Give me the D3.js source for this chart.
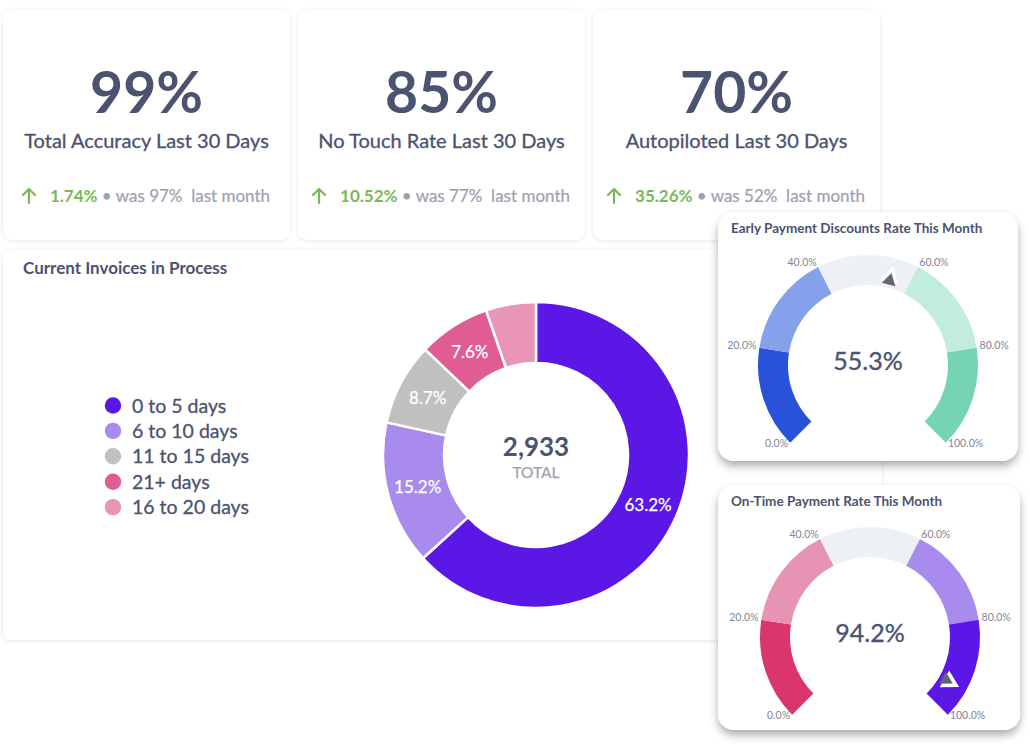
<!DOCTYPE html>
<html>
<head>
<meta charset="utf-8">
<script src="https://cdn.jsdelivr.net/npm/d3@7"></script>
<style>
  html, body { margin: 0; padding: 0; background: #ffffff; }
  svg { display: block; font-family: Lato, "Open Sans", sans-serif; }
</style>
</head>
<body>
<script>
// ---- data ----
const kpiValues = ["99%", "85%", "70%"];
const kpiLabels = ["Total Accuracy Last 30 Days", "No Touch Rate Last 30 Days", "Autopiloted Last 30 Days"];
const kpiDeltas = ["1.74%", "10.52%", "35.26%"];
const kpiPrevious = ["97%", "77%", "52%"];

const invoiceCategories = ["0 to 5 days", "6 to 10 days", "11 to 15 days", "21+ days", "16 to 20 days"];
const invoiceCounts = [1854, 446, 255, 223, 155];
const invoiceColors = ["#5b17e6", "#a98bee", "#bfc0bf", "#e05d93", "#e995b7"];

const gaugeTitles = ["Early Payment Discounts Rate This Month", "On-Time Payment Rate This Month"];
const gaugeValues = [55.3, 94.2];
const gaugeTicks = [0, 20, 40, 60, 80, 100];
const gaugeColors = [
  ["#2853d9", "#86a1ec", "#edf0f4", "#c2ecdd", "#76d4b4"],
  ["#d93670", "#e693b4", "#edf0f4", "#a98bee", "#5b17e6"]
];

const DARK = "#4a5370", GRAY = "#9ca1b0", GREEN = "#7ab85a";
const W = 1030, H = 746;

const svg = d3.select("body").append("svg")
  .attr("width", W)
  .attr("height", H);

// shadows
const defs = svg.append("defs");
defs.append("filter").attr("id", "soft")
  .attr("x", "-10%").attr("y", "-10%").attr("width", "120%").attr("height", "130%")
  .append("feDropShadow")
  .attr("dx", 0).attr("dy", 1).attr("stdDeviation", 2)
  .attr("flood-color", "#000").attr("flood-opacity", 0.10);
defs.append("filter").attr("id", "lift")
  .attr("x", "-10%").attr("y", "-10%").attr("width", "120%").attr("height", "130%")
  .append("feDropShadow")
  .attr("dx", 0).attr("dy", 5).attr("stdDeviation", 4.5)
  .attr("flood-color", "#000").attr("flood-opacity", 0.32);

// ---- KPI cards ----
const cardW = 287, cardH = 231;
const kpi = svg.selectAll("g.kpi")
  .data(kpiValues)
  .enter()
  .append("g")
  .attr("class", "kpi")
  .attr("transform", (d, i) => "translate(" + (3 + i * 295) + ",9)");

kpi.append("rect")
  .attr("width", cardW).attr("height", cardH)
  .attr("rx", 10)
  .attr("fill", "#fff")
  .attr("filter", "url(#soft)");

kpi.append("text")
  .attr("x", cardW / 2).attr("y", 104)
  .attr("text-anchor", "middle")
  .attr("font-size", 57).attr("font-weight", 700)
  .attr("fill", DARK)
  .text(d => d);

kpi.append("text")
  .attr("x", cardW / 2).attr("y", 139)
  .attr("text-anchor", "middle")
  .attr("font-size", 20)
  .attr("fill", DARK)
  .attr("stroke", DARK).attr("stroke-width", 0.3)
  .text((d, i) => kpiLabels[i]);

kpi.each(function (d, i) {
  const line = d3.select(this).append("g");
  // up arrow
  line.append("path")
    .attr("d", "M6,14V0M0,6L6,0L12,6")
    .attr("fill", "none")
    .attr("stroke", GREEN).attr("stroke-width", 2.2)
    .attr("stroke-linecap", "round").attr("stroke-linejoin", "round")
    .attr("transform", "translate(0,-13)");
  const t = line.append("text")
    .attr("x", 27).attr("y", 0)
    .attr("font-size", 17)
    .attr("xml:space", "preserve");
  t.append("tspan").attr("fill", GREEN).attr("font-weight", 700).text(kpiDeltas[i]);
  t.append("tspan").attr("fill", GRAY)
    .attr("stroke", GRAY).attr("stroke-width", 0.2)
    .text(" \u2022 was " + kpiPrevious[i] + "  last month");
  const bb = line.node().getBBox();
  line.attr("transform", "translate(" + (cardW / 2 - bb.width / 2) + ",193)");
});

// ---- invoices panel ----
const panel = svg.append("g").attr("transform", "translate(3,249)");
panel.append("rect")
  .attr("width", 879).attr("height", 391)
  .attr("rx", 8)
  .attr("fill", "#fff")
  .attr("filter", "url(#soft)");
panel.append("text")
  .attr("x", 20).attr("y", 25)
  .attr("font-size", 17).attr("font-weight", 700)
  .attr("fill", DARK)
  .text("Current Invoices in Process");

const legend = svg.append("g").attr("class", "legend")
  .selectAll("g")
  .data(invoiceCategories)
  .enter()
  .append("g")
  .attr("transform", (d, i) => "translate(113," + (405.5 + i * 25.4) + ")");
legend.append("circle")
  .attr("r", 8.2)
  .attr("fill", (d, i) => invoiceColors[i]);
legend.append("text")
  .attr("x", 19).attr("y", 7)
  .attr("font-size", 19.5)
  .attr("fill", DARK)
  .attr("stroke", DARK).attr("stroke-width", 0.3)
  .text(d => d);

// donut
const total = d3.sum(invoiceCounts);
const cx = 536, cy = 455, outerR = 153, innerR = 92;
const pie = d3.pie().sort(null).value(d => d);
const arcGen = d3.arc().innerRadius(innerR).outerRadius(outerR);
const donut = svg.append("g")
  .attr("class", "donut")
  .attr("transform", "translate(" + cx + "," + cy + ")");
const slices = pie(invoiceCounts);
donut.selectAll("path")
  .data(slices)
  .enter()
  .append("path")
  .attr("d", arcGen)
  .attr("fill", (d, i) => invoiceColors[i])
  .attr("stroke", "#fff").attr("stroke-width", 2.5);

const pct = d3.format(".1%");
donut.selectAll("text.slice")
  .data(slices.filter(d => d.value / total > 0.06))
  .enter()
  .append("text")
  .attr("class", "slice")
  .attr("transform", d => "translate(" + arcGen.centroid(d) + ")")
  .attr("text-anchor", "middle")
  .attr("dy", "0.38em")
  .attr("font-size", 17)
  .attr("fill", "#fff")
  .attr("stroke", "#fff").attr("stroke-width", 0.25)
  .text(d => pct(d.value / total));

donut.append("text")
  .attr("y", 1)
  .attr("text-anchor", "middle")
  .attr("font-size", 26).attr("font-weight", 700)
  .attr("fill", DARK)
  .text(d3.format(",")(total));
donut.append("text")
  .attr("y", 23)
  .attr("text-anchor", "middle")
  .attr("font-size", 15.5)
  .attr("fill", GRAY)
  .attr("stroke", GRAY).attr("stroke-width", 0.25)
  .text("TOTAL");

// ---- gauges ----
const gaugeCards = [
  { x: 718, y: 212, w: 300, h: 249, cx: 868, cy: 365 },
  { x: 718, y: 485, w: 302, h: 245, cx: 870, cy: 637 }
];
const angle = d3.scaleLinear().domain([0, 100]).range([-0.75 * Math.PI, 0.75 * Math.PI]);
const gR = 110, gr = 80;
const gArc = d3.arc().innerRadius(gr).outerRadius(gR);

gaugeValues.forEach((value, gi) => {
  const c = gaugeCards[gi];
  svg.append("rect")
    .attr("x", c.x).attr("y", c.y)
    .attr("width", c.w).attr("height", c.h)
    .attr("rx", 16)
    .attr("fill", "#fff")
    .attr("filter", "url(#lift)");
  svg.append("text")
    .attr("x", c.x + 13).attr("y", c.y + 21)
    .attr("font-size", 13.5).attr("font-weight", 700)
    .attr("fill", DARK)
    .text(gaugeTitles[gi]);

  const g = svg.append("g").attr("transform", "translate(" + c.cx + "," + c.cy + ")");
  const bands = d3.pairs(gaugeTicks);
  g.selectAll("path.band")
    .data(bands)
    .enter()
    .append("path")
    .attr("class", "band")
    .attr("d", d => gArc({ startAngle: angle(d[0]), endAngle: angle(d[1]) }))
    .attr("fill", (d, i) => gaugeColors[gi][i]);

  g.selectAll("text.tick")
    .data(gaugeTicks)
    .enter()
    .append("text")
    .attr("class", "tick")
    .attr("x", d => (gR + 3) * Math.sin(angle(d)))
    .attr("y", d => -(gR + 3) * Math.cos(angle(d)) - 2)
    .attr("dy", "0.35em")
    .attr("text-anchor", d => d < 50 ? "end" : "start")
    .attr("font-size", 10.5)
    .attr("fill", "#80869a")
    .text(d => d.toFixed(1) + "%");

  // pointer
  const a = angle(value);
  const tri = "M0,-8L6.9,4L-6.9,4Z";
  const deg = a * 180 / Math.PI;
  const px = r => r * Math.sin(a), py = r => -r * Math.cos(a);
  g.append("path")
    .attr("d", tri)
    .attr("fill", "#fff")
    .attr("transform", "translate(" + px(91) + "," + py(91) + ") rotate(" + deg + ") scale(1.4)");
  g.append("path")
    .attr("d", tri)
    .attr("fill", "#5f6677")
    .attr("transform", "translate(" + px(87) + "," + py(87) + ") rotate(" + deg + ")");

  g.append("text")
    .attr("y", 5)
    .attr("text-anchor", "middle")
    .attr("font-size", 25)
    .attr("fill", DARK)
    .attr("stroke", DARK).attr("stroke-width", 0.35)
    .text(value.toFixed(1) + "%");
});
</script>
</body>
</html>
